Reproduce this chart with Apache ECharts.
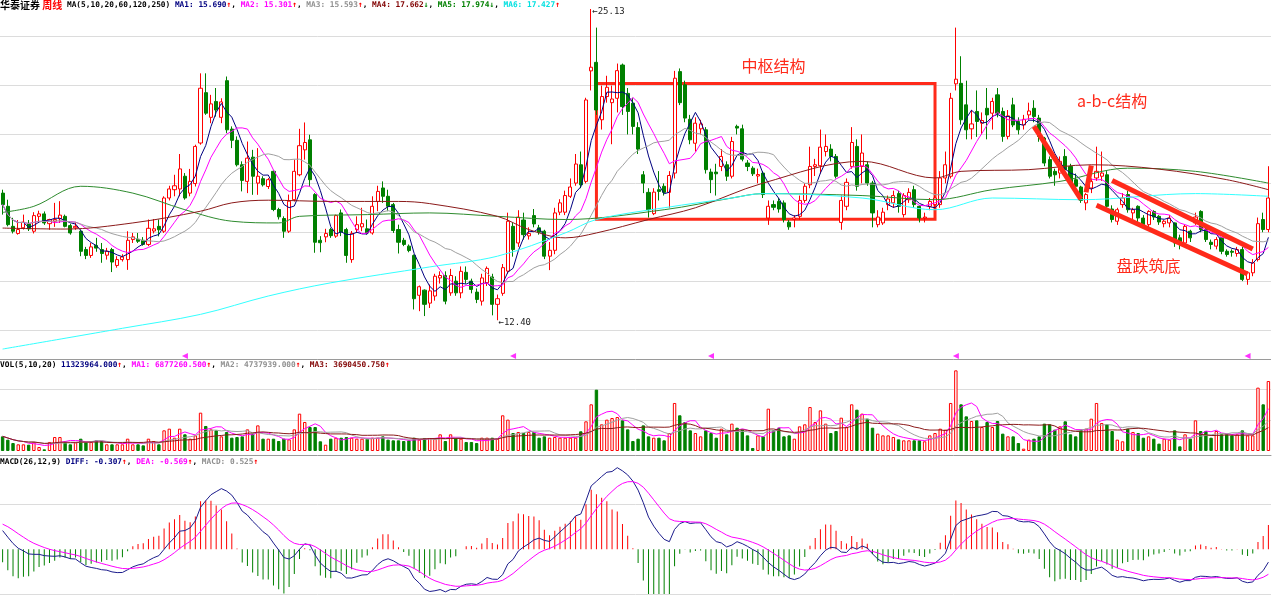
<!DOCTYPE html>
<html>
<head>
<meta charset="utf-8">
<title>华泰证券 周线</title>
<script src="https://cdn.jsdelivr.net/npm/echarts@6.0.0/dist/echarts.min.js"></script>
<style>
html, body { margin: 0; padding: 0; background: #fff; }
#chart { width: 1280px; height: 606px; }
</style>
</head>
<body>
<div id="chart"></div>
<script>
// weekly candles (price units)
const opens = [
  17.6,17.06,16.24,15.95,16.18,16.35,16.04,16.65,16.75,16.35,
  16.45,16.55,16.65,16.27,16.18,16.04,15.29,15.05,15.46,15.29,
  15.06,15.29,14.64,14.88,14.88,15.7,15.71,15.67,15.5,16.05,
  16.24,16.04,17.4,17.74,17.77,18.29,17.6,17.99,19.65,21.71,
  20.7,21.35,20.7,22.2,20.22,19.76,18.76,18.08,19.07,18.01,
  18.19,17.87,18.49,16.93,16.56,16.04,17.33,18.35,19.37,19.78,
  17.54,15.67,15.81,16.11,15.84,16.79,16.11,14.88,16.11,16.22,
  16.14,15.97,17.26,17.81,17.47,17.13,16.11,15.67,15.43,15.05,
  13.42,13.63,13.1,
  13.39,14.13,14.23,13.52,14.0,13.52,14.36,14.0,13.55,13.18,
  13.93,14.17,13.05,13.5,14.41,16.24,15.56,16.5,15.85,16.68,
  16.18,16.04,15.02,15.26,16.82,16.82,17.47,18.01,18.76,18.08,
  22.6,22.95,20.6,21.55,21.3,21.48,22.84,21.68,21.28,20.28,
  18.35,17.63,16.76,17.74,17.88,17.63,18.42,22.57,22.03,20.62,
  19.64,20.23,20.19,18.46,18.46,18.69,18.76,18.29,20.33,20.23,
  18.83,18.62,18.3,18.42,16.58,17.13,17.26,17.2,16.41,16.52,
  16.65,17.3,17.94,18.69,18.72,19.3,19.4,19.1,16.4,17.06,
  18.69,19.51,
  18.69,18.76,18.01,16.31,16.38,17.13,17.2,17.58,16.72,17.33,
  17.74,17.06,16.58,17.06,17.13,17.13,18.22,18.29,22.07,22.09,
  21.21,20.23,20.94,20.46,21.07,20.87,21.62,20.94,19.92,21.21,
  20.53,20.39,20.8,21.07,20.67,19.85,18.97,18.49,18.42,19.1,
  18.69,18.15,17.85,17.2,17.81,18.22,18.29,18.35,16.95,16.45,
  17.13,17.54,16.79,17.06,16.58,16.31,16.85,16.65,16.35,16.38,
  16.38,15.77,15.56,16.04,16.38,16.85,16.11,15.59,15.43,15.77,
  15.22,15.22,15.13,15.29,14.07,14.34,14.88,16.52,16.11
];
const closes = [
  17.13,16.31,16.04,16.11,16.41,16.14,16.68,16.75,16.38,16.52,
  16.52,16.7,16.24,15.97,16.24,15.22,15.05,15.4,15.35,15.13,
  15.22,14.78,14.88,14.99,15.67,15.81,15.63,15.5,16.16,16.14,
  16.1,17.4,17.77,17.9,18.59,17.4,18.08,19.51,21.89,20.87,
  21.25,21.0,21.33,20.19,19.76,18.76,18.12,19.03,18.29,18.29,
  17.94,18.15,16.93,16.63,16.04,17.27,18.49,19.54,19.67,18.15,
  15.59,15.57,15.95,15.86,16.68,16.01,15.05,15.95,16.31,16.35,
  15.97,17.06,17.67,17.47,17.06,16.07,15.59,15.5,15.25,13.28,
  13.77,13.05,13.6,
  14.2,14.23,13.18,14.23,13.52,14.4,14.07,13.66,13.25,14.13,
  14.52,13.05,13.28,14.55,16.45,15.29,16.62,15.9,15.95,16.34,
  16.0,15.02,15.26,16.79,17.2,17.5,17.85,18.79,17.94,21.41,
  22.75,21.0,21.55,21.93,21.45,22.61,21.14,20.94,20.33,19.4,
  18.01,16.92,17.64,17.67,17.63,18.32,22.3,21.3,20.67,19.78,
  20.46,20.43,18.56,18.15,18.39,19.1,18.29,19.71,20.26,18.99,
  18.69,18.39,18.36,17.54,17.06,17.02,16.95,16.52,16.22,16.58,
  17.3,17.88,18.69,18.76,19.48,19.51,19.1,18.29,17.3,18.04,
  19.67,17.88,
  19.24,18.01,16.79,16.62,16.82,17.36,17.5,17.06,17.5,17.63,
  17.13,16.58,16.62,17.26,17.4,18.22,18.76,21.48,22.26,20.6,
  20.19,20.43,20.53,20.57,20.8,21.35,20.87,19.92,20.76,20.39,
  20.19,20.62,20.96,20.73,19.92,18.83,18.29,18.35,18.9,18.56,
  18.01,17.88,17.3,17.54,18.08,18.49,18.42,17.06,16.52,16.92,
  17.4,16.92,16.92,16.58,16.31,16.85,16.62,16.42,16.45,16.58,
  15.56,15.5,16.24,15.77,16.62,16.11,15.7,15.5,15.7,15.22,
  15.09,15.18,15.29,14.07,14.34,14.75,16.35,16.11,17.4
];
const lows = [
  16.72,16.24,15.95,15.9,16.11,16.05,15.95,16.38,16.3,16.1,
  16.22,16.38,16.2,15.9,16.1,15.02,14.9,14.95,15.2,14.75,
  14.88,14.37,14.55,14.8,14.46,15.56,15.56,15.45,15.43,15.95,
  15.83,15.97,17.3,17.47,17.47,17.33,17.47,17.87,19.58,20.8,
  20.46,20.73,20.46,20.05,19.44,18.69,17.67,17.6,17.53,17.53,
  17.87,17.77,16.86,16.52,15.77,15.97,17.26,18.29,18.97,17.87,
  15.16,15.18,15.59,15.77,15.77,15.84,14.75,14.75,15.97,16.04,
  15.9,15.9,16.86,17.2,16.86,15.97,15.13,15.43,15.18,12.84,
  12.77,12.57,12.9,
  13.2,13.9,13.05,13.4,13.4,13.3,13.9,13.5,13.1,13.0,
  13.8,12.6,12.4,13.4,14.3,15.0,15.4,15.7,15.7,16.2,
  15.9,14.9,14.45,15.1,16.7,16.7,17.4,17.9,17.8,18.0,
  21.8,20.8,20.2,21.3,19.6,20.9,20.8,20.0,20.0,19.2,
  17.6,16.6,16.7,17.3,17.5,17.0,18.2,21.2,20.5,19.6,
  19.3,20.0,18.4,17.6,17.5,18.5,18.1,18.2,20.0,18.9,
  18.5,18.3,18.0,17.4,16.3,16.9,16.8,16.4,16.1,16.2,
  16.5,17.2,17.8,18.3,18.4,19.1,18.9,18.2,16.1,16.9,
  18.6,17.7,
  18.0,17.9,16.2,16.2,16.3,16.9,17.0,16.8,16.6,17.2,
  17.0,16.4,16.4,16.9,17.0,17.0,18.0,18.2,21.8,20.4,
  19.8,19.8,19.9,20.0,19.8,20.2,20.7,19.7,19.8,20.3,
  20.0,20.2,20.6,20.5,19.7,18.7,18.2,17.9,18.2,18.3,
  17.9,17.8,17.2,16.9,17.6,18.1,18.1,17.0,16.4,16.3,
  17.0,16.8,16.5,16.4,16.2,16.2,16.5,16.3,16.2,16.2,
  15.4,15.3,15.5,15.6,16.3,16.0,15.6,15.3,15.3,15.1,
  15.0,15.0,15.0,14.0,13.85,14.2,14.8,16.0,16.0
];
const highs = [
  17.74,17.33,16.59,16.5,16.72,16.5,16.82,16.88,16.85,16.55,
  17.2,17.27,16.72,16.35,16.4,16.11,15.4,15.56,15.77,15.56,
  15.36,15.36,15.02,15.1,16.04,15.97,15.97,15.8,16.52,16.54,
  16.52,17.47,17.9,18.35,19.2,18.42,18.59,19.58,22.5,22.5,
  21.62,21.9,21.48,22.37,20.33,19.92,18.9,19.71,19.37,19.44,
  18.29,18.22,18.53,17.0,16.65,17.54,18.97,20.23,20.49,19.99,
  17.6,15.84,16.14,16.18,16.72,16.93,16.18,16.05,16.65,17.0,
  16.52,17.47,17.9,18.08,17.74,17.2,16.31,15.77,15.5,15.09,
  13.82,13.66,13.86,
  14.3,14.4,14.4,14.5,14.2,14.6,14.6,14.1,13.7,14.3,
  14.6,14.3,13.45,14.7,16.8,16.4,16.9,16.8,16.2,16.95,
  16.3,16.1,15.6,17.0,17.35,17.7,18.2,19.2,19.3,21.5,
  25.13,24.37,22.0,22.4,22.0,22.9,22.9,21.9,21.5,20.5,
  18.5,17.8,17.8,18.5,18.0,18.5,22.6,22.7,22.2,20.8,
  20.7,20.6,20.3,18.6,18.8,19.4,18.9,19.9,20.4,20.4,
  18.95,18.7,18.6,18.5,17.3,17.3,17.4,17.3,16.5,16.7,
  17.5,18.0,19.5,19.0,20.2,20.0,19.6,19.2,17.5,18.2,
  20.3,19.8,
  20.0,18.9,18.1,16.9,17.0,17.5,17.7,17.7,17.6,17.8,
  17.9,17.1,16.8,17.4,17.5,18.5,19.3,21.7,24.37,23.2,
  22.2,21.0,21.8,20.9,21.9,21.5,21.9,21.1,21.0,21.5,
  20.7,20.8,21.3,21.4,20.8,19.9,19.1,18.6,19.1,19.4,
  18.8,18.4,17.9,17.6,18.2,19.5,19.3,18.5,17.1,17.0,
  17.6,17.7,17.0,17.1,16.7,16.9,16.9,16.7,16.5,16.7,
  16.4,15.9,16.3,16.1,16.8,16.9,16.2,15.7,15.8,15.8,
  15.3,15.3,15.4,15.4,14.4,14.9,16.6,16.8,18.7
];
// weekly volume, millions of shares
const volumes = [
  2.39,1.85,1.30,1.09,1.09,1.03,1.47,0.65,0.27,1.47,
  2.28,2.28,1.47,1.09,1.41,2.01,1.47,1.47,1.74,1.63,
  1.09,1.09,1.09,1.09,2.01,1.09,1.09,0.92,2.01,1.63,
  1.09,3.37,3.64,2.17,3.64,2.72,2.01,2.55,6.25,4.08,
  3.53,3.37,2.39,3.10,2.17,2.28,2.39,3.53,2.83,4.18,
  2.01,2.01,2.01,1.63,2.01,1.90,3.53,6.09,4.73,3.91,
  3.91,1.58,1.03,2.01,2.17,2.17,2.28,2.17,2.01,2.01,
  2.01,2.17,2.17,2.39,1.85,1.74,1.74,1.63,1.74,2.17,
  1.85,2.12,2.12,2.01,2.72,1.63,2.72,2.12,2.01,1.47,
  1.47,1.30,2.17,2.17,2.17,2.01,5.82,5.11,2.93,3.10,
  2.93,3.10,3.10,2.17,2.39,2.17,2.28,2.17,2.17,2.17,
  2.17,3.21,4.84,7.61,10.0,4.35,5.11,5.38,5.54,5.0,
  3.53,1.63,2.01,
  4.18,2.39,2.17,2.17,1.74,2.93,7.83,5.82,4.73,3.37,
  2.93,2.39,3.37,2.93,2.17,3.64,2.72,4.46,3.80,3.48,
  2.55,0.49,2.55,2.39,6.90,3.37,3.80,2.39,2.55,2.01,
  4.02,4.35,7.17,4.73,6.63,4.46,2.93,3.26,5.43,3.91,
  7.61,6.74,6.09,5.27,3.80,2.83,2.55,2.55,2.28,1.90,
  1.74,1.74,1.74,1.74,1.58,2.55,2.93,3.64,3.48,7.83,
  13.15,7.61,5.65,4.89,5.0,3.91,4.73,3.91,4.89,2.83,
  2.39,2.39,1.30,0.38,1.85,2.01,2.39,4.46,4.35,3.48,
  4.02,4.84,2.72,2.39,3.48,3.64,5.27,7.83,4.57,4.35,
  3.26,1.85,1.58,3.64,3.10,2.93,2.17,2.39,2.01,1.20,
  2.01,1.85,3.37,0.76,2.72,2.01,5.0,3.26,3.26,2.17,
  3.26,2.72,2.72,2.55,2.72,3.37,2.55,2.55,10.33,7.61,
  11.41
];
// long moving averages: [week index, price]
const ma60Pts = [[0,16.81],[6,17.06],[15,17.88],[25,17.6],[35,16.92],[44,16.45],[53,16.38],[57,16.65],[70,16.72],[82,16.79],[95,16.65],[108,16.52],[127,16.92],[140,17.4],[146,17.58],[165,17.5],[179,17.33],[190,17.74],[203,18.08],[216,18.62],[229,18.49],[243,18.01]];
const ma120Pts = [[0,16.17],[12,16.13],[25,16.38],[38,16.86],[44,17.2],[51,17.31],[63,17.26],[76,17.26],[82,17.17],[95,16.65],[101,16.11],[108,15.77],[114,15.97],[124,16.52],[133,17.0],[146,18.01],[165,18.9],[179,18.22],[184,18.49],[197,18.56],[209,18.76],[222,18.58],[235,18.15],[243,17.74]];
const ma250Pts = [[0,11.22],[23,12.07],[38,12.64],[51,13.39],[63,13.93],[82,14.58],[95,15.02],[108,15.97],[114,16.52],[127,17.0],[140,17.4],[146,17.58],[165,17.4],[179,16.92],[190,17.4],[207,17.33],[229,17.58],[243,17.47]];
// MACD state before the first visible week (ema12, ema26, dea)
const macdSeed = [17.9, 17.38, 0.60];
// annotations
const boxCorners = [[114, 22.08], [179, 16.53]];
const arrowLegs = [
  [[198, 20.33], [207, 17.35]],
  [[208, 17.63], [209, 18.73]],
  [[213, 18.12], [240, 15.31]],
  [[210, 17.1], [239, 14.29]]
];
const notes = [['中枢结构', 148, 22.82], ['a-b-c结构', 213, 21.39], ['盘跌筑底', 220, 14.61]];
const extremes = [[113, 25.13], [95, 12.40]];
const periodMarks = [35, 98, 136, 183, 239];

const weeks = opens.map((_, i) => 'W' + (i + 1));

function movingAvg(arr, n) {
  return arr.map((v, i) => {
    const s = Math.max(0, i - n + 1);
    let sum = 0;
    for (let j = s; j <= i; j++) sum += arr[j];
    return +(sum / (i - s + 1)).toFixed(3);
  });
}

// MACD(26,12,9)
let e12 = macdSeed[0], e26 = macdSeed[1], dea = macdSeed[2];
const diffs = [], deas = [], hist = [];
closes.forEach(c => {
  e12 = (2 * c + 11 * e12) / 13;
  e26 = (2 * c + 25 * e26) / 27;
  const d = e12 - e26;
  dea = (2 * d + 8 * dea) / 10;
  diffs.push(+d.toFixed(3));
  deas.push(+dea.toFixed(3));
  hist.push(+(2 * (d - dea)).toFixed(3));
});

const RED = '#ff0000', GREEN = '#008000';
const candles = closes.map((c, i) => [opens[i], c, lows[i], highs[i]]);
const volBars = volumes.map((v, i) => ({
  value: v,
  itemStyle: closes[i] >= opens[i]
    ? { color: '#ffffff', borderColor: RED, borderWidth: 1 }
    : { color: GREEN, borderColor: GREEN, borderWidth: 1 }
}));
const macdBars = hist.map(v => ({ value: v, itemStyle: { color: v >= 0 ? RED : GREEN } }));

const mono = 'DejaVu Sans Mono';
const cjk = 'Noto Sans CJK SC';
const rich = {
  k: { color: '#000', fontFamily: mono, fontSize: 7.8 },
  cn: { color: '#000', fontFamily: cjk, fontSize: 10 },
  cr: { color: RED, fontFamily: cjk, fontSize: 10 },
  nv: { color: '#000080', fontFamily: mono, fontSize: 7.8 },
  mg: { color: '#ff00ff', fontFamily: mono, fontSize: 7.8 },
  gy: { color: '#909090', fontFamily: mono, fontSize: 7.8 },
  br: { color: '#800000', fontFamily: mono, fontSize: 7.8 },
  gn: { color: GREEN, fontFamily: mono, fontSize: 7.8 },
  cy: { color: '#00e0e0', fontFamily: mono, fontSize: 7.8 },
  up: { color: RED, fontFamily: mono, fontSize: 7.8 },
  dn: { color: GREEN, fontFamily: mono, fontSize: 7.8 }
};

function hiddenX(grid) {
  return {
    type: 'category', gridIndex: grid, data: weeks, boundaryGap: true,
    axisLine: { show: false }, axisTick: { show: false }, axisLabel: { show: false },
    splitLine: { show: false }
  };
}
function lineSeries(name, data, color, x, y) {
  return {
    name: name, type: 'line', data: data, xAxisIndex: x, yAxisIndex: y,
    showSymbol: false, symbol: 'none', clip: false, silent: true,
    lineStyle: { color: color, width: 1 }, z: 3
  };
}
function smoothSeries(name, data, color) {
  const s = lineSeries(name, data, color, 0, 0);
  s.smooth = 0.35;
  return s;
}

const annoColor = '#ff2a1a';
const LG = '#dcdcdc';
const myChart = echarts.init(document.getElementById('chart'));
const option = {
  animation: false,
  backgroundColor: '#fff',
  title: [
    { left: 0, top: 0, padding: 0, textStyle: { rich: rich },
      text: '{cn|华泰证券 }{cr|周线}{k| MA(5,10,20,60,120,250) }{nv|MA1: 15.690}{up|↑}{k|, }{mg|MA2: 15.301}{up|↑}{k|, }{gy|MA3: 15.593}{up|↑}{k|, }{br|MA4: 17.662}{dn|↓}{k|, }{gn|MA5: 17.974}{dn|↓}{k|, }{cy|MA6: 17.427}{up|↑}' },
    { left: 0, top: 361, padding: 0, textStyle: { rich: rich },
      text: '{k|VOL(5,10,20) }{nv|11323964.000}{up|↑}{k|, }{mg|MA1: 6877260.500}{up|↑}{k|, }{gy|MA2: 4737939.000}{up|↑}{k|, }{br|MA3: 3690450.750}{up|↑}' },
    { left: 0, top: 458, padding: 0, textStyle: { rich: rich },
      text: '{k|MACD(26,12,9) }{nv|DIFF: -0.307}{up|↑}{k|, }{mg|DEA: -0.569}{up|↑}{k|, }{gy|MACD: 0.525}{up|↑}' }
  ],
  grid: [
    { left: 0, right: 9, top: 0, height: 330 },
    { left: 0, right: 9, top: 359, height: 92 },
    { left: 0, right: 9, top: 460, height: 134 }
  ],
  xAxis: [
    hiddenX(0),
    Object.assign(hiddenX(1), { axisLine: { show: true, onZero: false, lineStyle: { color: '#9a9a9a', width: 1 } }, offset: 4 }),
    hiddenX(2)
  ],
  yAxis: [
    { type: 'value', gridIndex: 0, min: 12, max: 25.5, interval: 2,
      axisLine: { show: false }, axisTick: { show: false }, axisLabel: { show: false },
      splitLine: { lineStyle: { color: [LG, LG, LG, LG, LG, LG, LG, 'transparent'], width: 1 } } },
    { type: 'value', gridIndex: 1, min: 0, max: 15, interval: 5,
      axisLine: { show: false }, axisTick: { show: false }, axisLabel: { show: false },
      splitLine: { lineStyle: { color: ['transparent', LG, LG, '#9a9a9a'], width: 1 } } },
    { type: 'value', gridIndex: 2, min: -1, max: 2, interval: 1,
      axisLine: { show: false }, axisTick: { show: false }, axisLabel: { show: false },
      splitLine: { lineStyle: { color: [LG, 'transparent', LG, 'transparent'], width: 1 } } }
  ],
  series: [
    {
      name: 'K', type: 'candlestick', data: candles, xAxisIndex: 0, yAxisIndex: 0,
      barWidth: 3.6, clip: false, silent: true, z: 2,
      itemStyle: { color: '#ffffff', color0: GREEN, borderColor: RED, borderColor0: GREEN, borderWidth: 1 },
      markArea: {
        silent: true,
        itemStyle: { color: 'rgba(0,0,0,0)', borderColor: annoColor, borderWidth: 3 },
        data: [[{ coord: boxCorners[0] }, { coord: boxCorners[1] }]]
      },
      markLine: {
        silent: true, symbol: ['none', 'arrow'], symbolSize: [0, 17],
        label: { show: false },
        lineStyle: { color: annoColor, width: 5, type: 'solid', opacity: 1 },
        data: arrowLegs.map(l => [{ coord: l[0] }, { coord: l[1] }])
      },
      markPoint: {
        silent: true, symbol: 'circle', symbolSize: 0,
        data: notes.map(n => ({
          coord: [n[1], n[2]], value: n[0],
          label: { show: true, position: 'inside', formatter: n[0], color: annoColor, fontSize: 16, fontFamily: cjk }
        })).concat(extremes.map((e, i) => ({
          coord: e, value: e[1],
          label: { show: true, position: 'right', distance: 1, offset: [0, i === 0 ? 3 : 2],
            formatter: '←' + e[1].toFixed(2), color: '#222', fontSize: 9, fontFamily: mono }
        })))
      }
    },
    lineSeries('MA5', movingAvg(closes, 5), '#000080', 0, 0),
    lineSeries('MA10', movingAvg(closes, 10), '#ff00ff', 0, 0),
    lineSeries('MA20', movingAvg(closes, 20), '#a0a0a0', 0, 0),
    smoothSeries('MA60', ma60Pts, '#2e8b2e'),
    smoothSeries('MA120', ma120Pts, '#8b1a1a'),
    smoothSeries('MA250', ma250Pts, '#33ffff'),
    {
      name: 'VOL', type: 'bar', data: volBars, xAxisIndex: 1, yAxisIndex: 1,
      barWidth: 3.4, silent: true
    },
    lineSeries('VMA5', movingAvg(volumes, 5), '#ff00ff', 1, 1),
    lineSeries('VMA10', movingAvg(volumes, 10), '#a0a0a0', 1, 1),
    lineSeries('VMA20', movingAvg(volumes, 20), '#8b1a1a', 1, 1),
    {
      name: 'marks', type: 'scatter', xAxisIndex: 1, yAxisIndex: 1, clip: false, silent: true,
      data: periodMarks.map(i => [i, 15]),
      symbol: 'triangle', symbolRotate: 90, symbolSize: [6, 6], symbolOffset: [0, -3],
      itemStyle: { color: '#ff00ff' }
    },
    {
      name: 'MACD', type: 'bar', data: macdBars, xAxisIndex: 2, yAxisIndex: 2,
      barWidth: 1, silent: true
    },
    lineSeries('DIFF', diffs, '#1c1c8c', 2, 2),
    lineSeries('DEA', deas, '#ff00ff', 2, 2)
  ]
};
myChart.setOption(option);
</script>
</body>
</html>
